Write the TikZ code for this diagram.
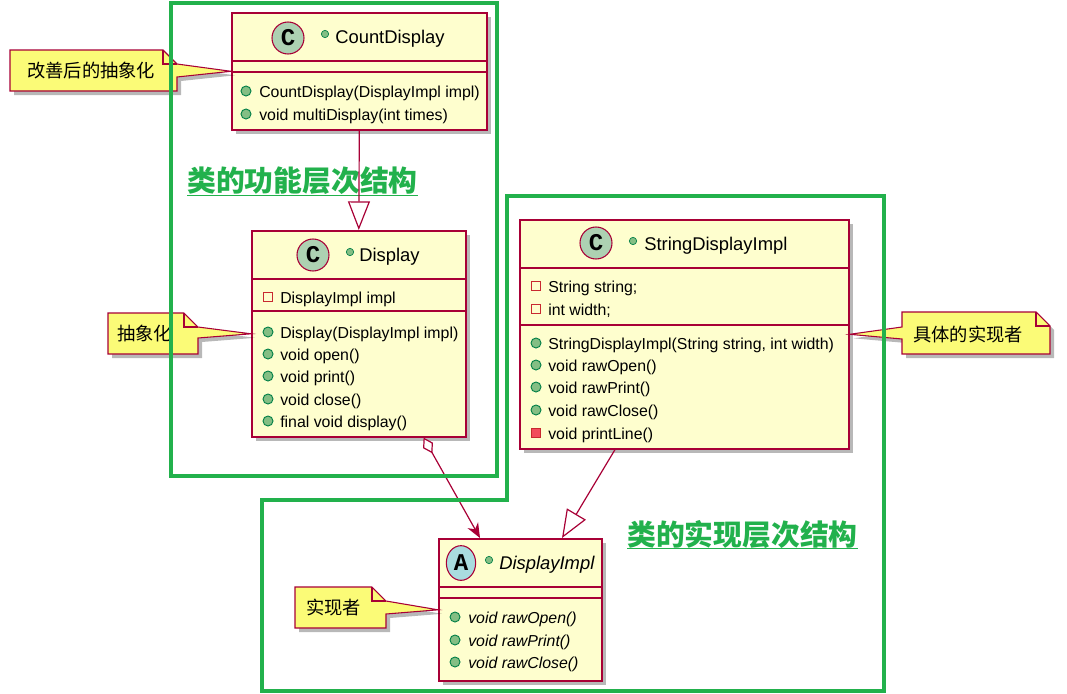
\documentclass[tikz,border=0pt]{standalone}
\usepackage{fontspec}
\setmainfont{Liberation Sans}
\setmonofont{Liberation Mono}
\newfontfamily\cjk{Noto Sans CJK SC}
\usetikzlibrary{arrows.meta,shadows,calc,shapes.geometric}
\definecolor{umlred}{HTML}{A80036}
\definecolor{umlfill}{HTML}{FEFECE}
\definecolor{notefill}{HTML}{FBFB77}
\definecolor{cfill}{HTML}{ADD1B2}
\definecolor{afill}{HTML}{A9DCDF}
\definecolor{pubfill}{HTML}{84BE84}
\definecolor{pubdraw}{HTML}{038048}
\definecolor{privdraw}{HTML}{C82930}
\definecolor{privfill}{HTML}{F24D5C}
\definecolor{frgreen}{HTML}{22B14C}
\tikzset{
  shad/.style={drop shadow={shadow xshift=3pt,shadow yshift=-3pt,opacity=0.28,fill=black}},
  cls/.style={draw=umlred,fill=umlfill,line width=1.2pt,shad,inner sep=0pt},
  sepline/.style={draw=umlred,line width=1.2pt},
  circ/.style={circle,draw=umlred,line width=0.8pt,fill=cfill,minimum size=24pt,inner sep=0pt,font=\ttfamily\bfseries\fontsize{18}{18}\selectfont},
  dotn/.style={circle,draw=pubdraw,fill=pubfill,line width=0.5pt,minimum size=5.5pt,inner sep=0pt},
  cname/.style={anchor=west,inner sep=0pt,font=\fontsize{13.8}{15}\selectfont},
  mem/.style={anchor=west,inner sep=0pt,yshift=-1.5pt,font=\fontsize{11.9}{13}\selectfont},
  pub/.style={circle,draw=pubdraw,fill=pubfill,line width=0.7pt,minimum size=7.5pt,inner sep=0pt},
  privf/.style={rectangle,draw=privdraw,fill=none,line width=0.7pt,minimum size=7pt,inner sep=0pt},
  privm/.style={rectangle,draw=privdraw,fill=privfill,line width=0.7pt,minimum size=7pt,inner sep=0pt},
  notebox/.style={draw=umlred,fill=notefill,line width=0.8pt,shad},
  notetext/.style={anchor=west,inner sep=0pt,font=\cjk\fontsize{13.7}{15}\selectfont},
  edge/.style={draw=umlred,line width=0.9pt},
  frame/.style={draw=frgreen,line width=2.3pt},
  ttl/.style={inner sep=0pt,text=frgreen,font=\cjk\bfseries\fontsize{21.6}{23}\selectfont},
}
\newcommand\umlpub[5]{\node[pub] (#1b) at (#2,#4) {};\node[mem] (#1) at (#3,#4) {#5};}
\newcommand\umlprivf[5]{\node[privf] (#1b) at (#2,#4) {};\node[mem] (#1) at (#3,#4) {#5};}
\newcommand\umlprivm[5]{\node[privm] (#1b) at (#2,#4) {};\node[mem] (#1) at (#3,#4) {#5};}
\begin{document}
\begin{tikzpicture}[x=0.75pt,y=-0.75pt]
\useasboundingbox (0,0) rectangle (1067,693);

% ---------------- classes
% CountDisplay
\node[cls,minimum width=191.25pt,minimum height=87.75pt,anchor=north west] (cd) at (231,12) {};
\draw[sepline] (231,61) -- (486,61);
\draw[sepline] (231,72) -- (486,72);
\node[circ] (cdC) at (288,38) {C};
\node[dotn] (cdD) at (325,34) {};
\node[cname] (cdN) at (335,39) {CountDisplay};
\umlpub{cdm1}{246}{259}{91}{CountDisplay(DisplayImpl impl)}
\umlpub{cdm2}{246}{259}{114}{void multiDisplay(int times)}

% Display
\node[cls,minimum width=160.5pt,minimum height=154.5pt,anchor=north west] (disp) at (251,230) {};
\draw[sepline] (251,279) -- (465,279);
\draw[sepline] (251,311) -- (465,311);
\node[circ] (dispC) at (313,255) {C};
\node[dotn] (dispD) at (350,252) {};
\node[cname] (dispN) at (359,257) {Display};
\umlprivf{dispf1}{268}{280}{297}{DisplayImpl impl}
\umlpub{dispm1}{268}{280}{332}{Display(DisplayImpl impl)}
\umlpub{dispm2}{268}{280}{354}{void open()}
\umlpub{dispm3}{268}{280}{376}{void print()}
\umlpub{dispm4}{268}{280}{399}{void close()}
\umlpub{dispm5}{268}{280}{421}{final void display()}

% StringDisplayImpl
\node[cls,minimum width=246.75pt,minimum height=171.75pt,anchor=north west] (sdi) at (519,219) {};
\draw[sepline] (519,268) -- (848,268);
\draw[sepline] (519,325) -- (848,325);
\node[circ] (sdiC) at (596,243) {C};
\node[dotn] (sdiD) at (633,241) {};
\node[cname] (sdiN) at (644,246) {StringDisplayImpl};
\umlprivf{sdif1}{536}{548}{286}{String string;}
\umlprivf{sdif2}{536}{548}{309}{int width;}
\umlpub{sdim1}{536}{548}{343}{StringDisplayImpl(String string, int width)}
\umlpub{sdim2}{536}{548}{365}{void rawOpen()}
\umlpub{sdim3}{536}{548}{387}{void rawPrint()}
\umlpub{sdim4}{536}{548}{410}{void rawClose()}
\umlprivm{sdim5}{536}{548}{433}{void printLine()}

% DisplayImpl (abstract)
\node[cls,minimum width=122.25pt,minimum height=106.5pt,anchor=north west] (di) at (438,538) {};
\draw[sepline] (438,587) -- (601,587);
\draw[sepline] (438,598) -- (601,598);
\node[circ,fill=afill,shape=ellipse,minimum width=22pt,minimum height=26pt] (diC) at (461,563) {A};
\node[dotn] (diD) at (489,560) {};
\node[cname,font=\itshape\fontsize{13.8}{15}\selectfont] (diN) at (499,565) {DisplayImpl};
\umlpub{dim1}{455}{468}{617}{\itshape void rawOpen()}
\umlpub{dim2}{455}{468}{640}{\itshape void rawPrint()}
\umlpub{dim3}{455}{468}{662}{\itshape void rawClose()}

% ---------------- notes
\path[notebox] (10,50) -- (163,50) -- (177,64) -- (cd.west) -- (177,77) -- (177,91) -- (10,91) -- cycle;
\draw[umlred,line width=0.8pt] (163,50) -- (163,64) -- (177,64);
\node[notetext] (n1) at (27,71) {改善后的抽象化};

\path[notebox] (108,313) -- (184,313) -- (198,327) -- (disp.west) -- (198,338) -- (198,354) -- (108,354) -- cycle;
\draw[umlred,line width=0.8pt] (184,313) -- (184,327) -- (198,327);
\node[notetext] (n2) at (117,334) {抽象化};

\path[notebox] (902,312) -- (1036,312) -- (1050,326) -- (1050,354) -- (902,354) -- (902,339) -- (sdi.east) -- (902,327) -- cycle;
\draw[umlred,line width=0.8pt] (1036,312) -- (1036,326) -- (1050,326);
\node[notetext] (n3) at (913,335) {具体的实现者};

\path[notebox] (295,587) -- (372,587) -- (386,601) -- (di.west) -- (386,614) -- (386,628) -- (295,628) -- cycle;
\draw[umlred,line width=0.8pt] (372,587) -- (372,601) -- (386,601);
\node[notetext] (n4) at (306,608) {实现者};

% ---------------- titles
\node[ttl,anchor=west] (t1) at (187,181) {类的功能层次结构};
\draw[frgreen,line width=1pt] (t1.south west) -- (t1.south east);
\node[ttl,anchor=west] (t2) at (627,534) {类的实现层次结构};
\draw[frgreen,line width=1pt] (t2.south west) -- (t2.south east);

% ---------------- connectors
\draw[edge,-{Triangle[open,length=21.5pt,width=16.5pt,fill=white]}] (cd.south) -- (disp.north);
\coordinate (aggS) at ($(disp.south east)+(-43,0)$);
\coordinate (aggE) at ($(di.north west)+(42,0)$);
\draw[edge,{Diamond[open,length=13.5pt,width=8.5pt,fill=white]}-{Stealth[length=11pt,width=9pt,inset=3.5pt]}] (aggS) -- (aggE);
\coordinate (genS) at ($(sdi.south west)+(96,0)$);
\coordinate (genE) at ($(di.north west)+(124,0)$);
\draw[edge,-{Triangle[open,length=21pt,width=16.5pt,fill=white]}] (genS) -- (genE);

% ---------------- frames
\draw[frame] (171,3) rectangle (497,476);
\draw[frame] (507,196) -- (884,196) -- (884,691) -- (262,691) -- (262,500) -- (507,500) -- cycle;
\end{tikzpicture}
\end{document}
